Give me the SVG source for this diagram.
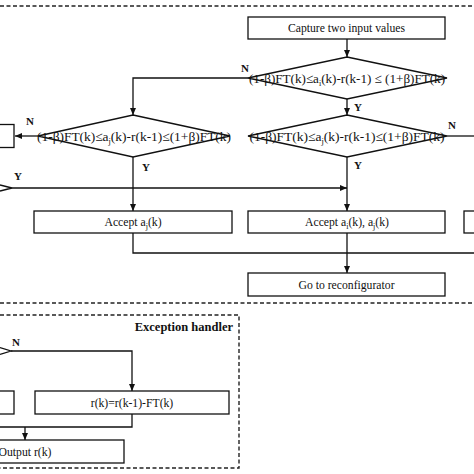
<svg xmlns="http://www.w3.org/2000/svg" width="474" height="474" viewBox="0 0 474 474">
<defs>
<marker id="ah" markerUnits="userSpaceOnUse" markerWidth="8" markerHeight="7" refX="7" refY="3" orient="auto">
<path d="M0,0 L7,3 L0,6 z" fill="#111"/>
</marker>
<style>
.b{fill:#fff;stroke:#111;stroke-width:1.3}
.l{fill:none;stroke:#111;stroke-width:1.3}
.a{fill:none;stroke:#111;stroke-width:1.3;marker-end:url(#ah)}
.d{fill:none;stroke:#222;stroke-width:1.4;stroke-dasharray:4,2.5}
.t{font-family:"Liberation Serif","Times New Roman",serif;font-size:11.7px;fill:#111;text-anchor:middle}
.dt{font-family:"Liberation Serif","Times New Roman",serif;font-size:13px;fill:#111;text-anchor:middle}
.yn{font-family:"Liberation Serif","Times New Roman",serif;font-size:11px;font-weight:bold;fill:#111;text-anchor:middle}
.s{font-size:8px}
</style>
</defs>
<rect width="474" height="474" fill="#fff"/>
<g id="frames">
<line class="d" x1="0" y1="6" x2="474" y2="6"/>
<line class="d" x1="0" y1="303" x2="474" y2="303"/>
<path class="d" d="M0,315 H239 V468 H0"/>
<text x="233" y="331" font-family="Liberation Serif,serif" font-size="12.5" font-weight="bold" text-anchor="end" fill="#111">Exception handler</text>
</g>
<g id="connectors">
<line class="a" x1="347" y1="39" x2="347" y2="57"/>
<polyline class="a" points="248,78 133,78 133,115"/>
<line class="a" x1="347" y1="99" x2="347" y2="115"/>
<line class="a" x1="38" y1="136" x2="15" y2="136"/>
<line class="l" x1="447" y1="136" x2="474" y2="136"/>
<line class="a" x1="133" y1="157" x2="133" y2="211"/>
<line class="a" x1="347" y1="157" x2="347" y2="211"/>
<line class="a" x1="12" y1="188" x2="347" y2="188"/>
<polyline class="l" points="133,233 133,253 474,253"/>
<line class="a" x1="347" y1="233" x2="347" y2="273"/>
<polyline class="a" points="11,351 132,351 132,391"/>
<polyline class="l" points="132,414 132,427 0,427"/>
<line class="a" x1="25" y1="427" x2="25" y2="440"/>
<text class="yn" x="245" y="72">N</text>
<text class="yn" x="358" y="111">Y</text>
<text class="yn" x="30" y="125">N</text>
<text class="yn" x="452" y="129">N</text>
<text class="yn" x="146" y="171">Y</text>
<text class="yn" x="358" y="169">Y</text>
<text class="yn" x="18" y="180">Y</text>
<text class="yn" x="16" y="346">N</text>
</g>
<g id="capture">
<rect class="b" x="248" y="17" width="197" height="22"/>
<text class="t" x="346.5" y="32">Capture two input values</text>
</g>
<g id="dec1">
<polygon class="b" points="347,57 447,78 347,99 248,78"/>
<text class="dt" x="347" y="82.5" textLength="196" lengthAdjust="spacingAndGlyphs">(1-β)FT(k)≤a<tspan class="s" dy="3">i</tspan><tspan dy="-3">(k)-r(k-1) ≤ (1+β)FT(k)</tspan></text>
</g>
<g id="dec2">
<polygon class="b" points="133,115 230,136 133,157 38,136"/>
<text class="dt" x="134" y="140.5" textLength="194" lengthAdjust="spacingAndGlyphs">(1-β)FT(k)≤a<tspan class="s" dy="3">j</tspan><tspan dy="-3">(k)-r(k-1)≤(1+β)FT(k)</tspan></text>
</g>
<g id="dec3">
<polygon class="b" points="347,115 447,136 347,157 248,136"/>
<text class="dt" x="347" y="140.5" textLength="195" lengthAdjust="spacingAndGlyphs">(1-β)FT(k)≤a<tspan class="s" dy="3">j</tspan><tspan dy="-3">(k)-r(k-1)≤(1+β)FT(k)</tspan></text>
</g>
<g id="leftbox1">
<rect class="b" x="-20" y="124.5" width="34" height="23"/>
</g>
<g id="leftdec1">
<polyline class="l" points="0,185 12,188 0,191"/>
</g>
<g id="acceptj">
<rect class="b" x="34" y="211" width="198" height="22"/>
<text class="t" x="133" y="226">Accept a<tspan class="s" dy="3">j</tspan><tspan dy="-3">(k)</tspan></text>
</g>
<g id="acceptij">
<rect class="b" x="248" y="211" width="197" height="22"/>
<text class="t" x="347" y="226">Accept a<tspan class="s" dy="3">i</tspan><tspan dy="-3">(k), a</tspan><tspan class="s" dy="3">j</tspan><tspan dy="-3">(k)</tspan></text>
</g>
<g id="rightbox">
<rect class="b" x="464" y="211" width="30" height="22"/>
</g>
<g id="reconf">
<rect class="b" x="248" y="273" width="197" height="23"/>
<text class="t" x="346.5" y="288.5">Go to reconfigurator</text>
</g>
<g id="leftdec2">
<polyline class="l" points="0,347.5 11,351 0,354.5"/>
</g>
<g id="leftbox2">
<rect class="b" x="-20" y="391" width="34" height="23"/>
</g>
<g id="rcalc">
<rect class="b" x="35" y="391" width="194" height="23"/>
<text class="t" x="132" y="406.5">r(k)=r(k-1)-FT(k)</text>
</g>
<g id="output">
<rect class="b" x="-74" y="440" width="198" height="23"/>
<text class="t" x="25" y="455.5">Output r(k)</text>
</g>
</svg>
